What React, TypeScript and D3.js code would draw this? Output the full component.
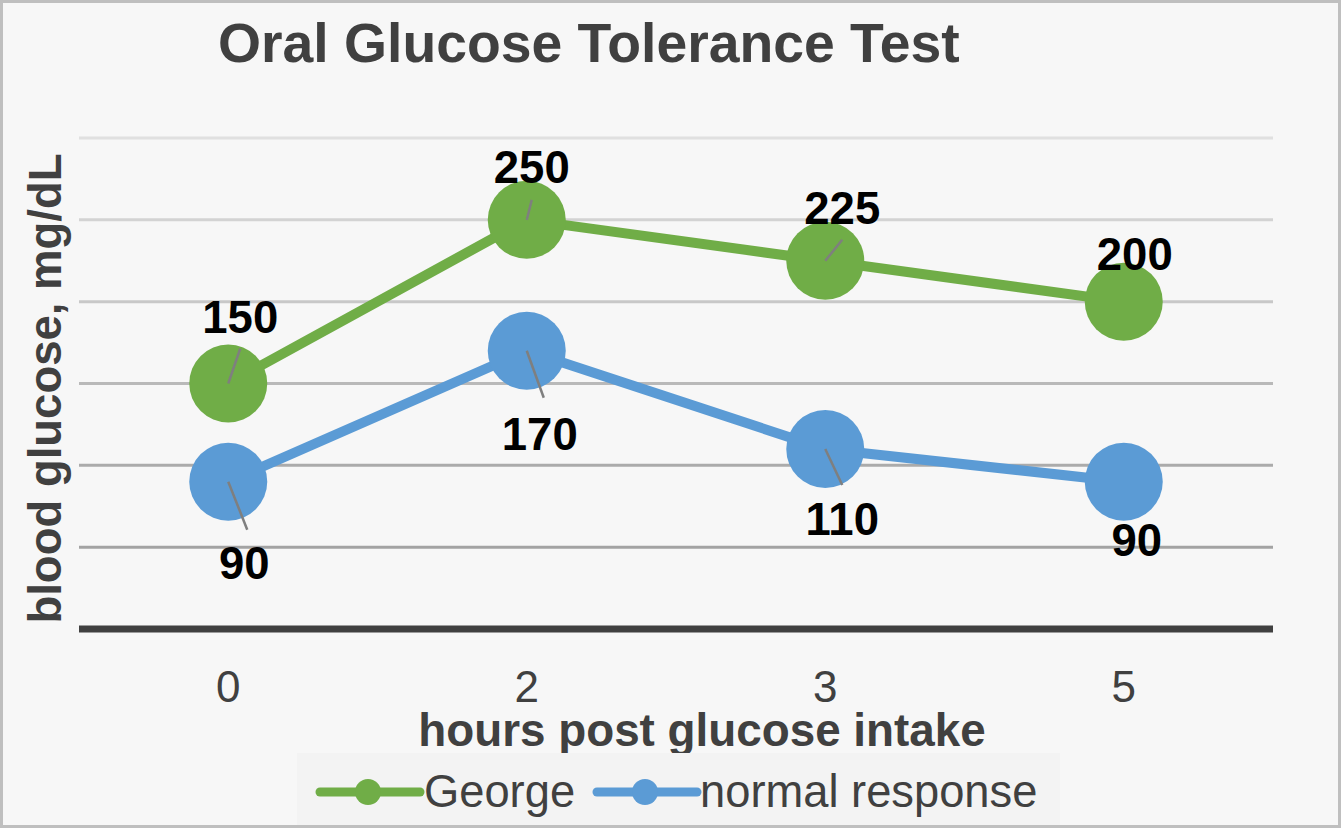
import React from "react";
import * as d3 from "d3";

const categories = ["0", "2", "3", "5"];
const georgeValues = [150, 250, 225, 200];
const normalValues = [90, 170, 110, 90];
const yTicks = [0, 50, 100, 150, 200, 250, 300];
const seriesNames = ["George", "normal response"];

// label placement (offsets from point, px): [labelDx, labelDy(baseline), leaderDx, leaderDy] ; leader null = none
const georgeLabelOffsets: [number, number, number | null, number | null][] = [
  [12, -51, 12, -35],
  [5, -37, 5, -20],
  [17, -37, 17, -21],
  [11, -32, null, null],
];
const normalLabelOffsets: [number, number, number | null, number | null][] = [
  [16, 97, 19, 48],
  [13, 99, 17, 47],
  [17, 86, 17, 36],
  [13, 74, null, null],
];

const W = 1341;
const H = 828;
const FONT = "'Liberation Sans', Arial, Helvetica, sans-serif";
const GREEN = "#70ad47";
const BLUE = "#5b9bd5";
const TEXT = "#404040";
const gridColors = ["#404040", "#a3a3a3", "#ababab", "#b9b9b9", "#c8c8c8", "#d3d3d3", "#e0e0e0"];

export default function App() {
  const x = d3.scaleBand<string>().domain(categories).range([79, 1273]);
  const cx = (c: string) => (x(c) as number) + x.bandwidth() / 2;
  const y = d3.scaleLinear().domain([0, 300]).range([629, 138]);
  const line = d3
    .line<number>()
    .x((_, i) => cx(categories[i]))
    .y((d) => y(d));

  const series = [
    { name: seriesNames[0], values: georgeValues, color: GREEN, offs: georgeLabelOffsets },
    { name: seriesNames[1], values: normalValues, color: BLUE, offs: normalLabelOffsets },
  ];

  return (
    <svg
      width={W}
      height={H}
      style={{ position: "fixed", left: 0, top: 0, display: "block" }}
      fontFamily={FONT}
    >
      <rect x={1.5} y={1.5} width={W - 3} height={H - 3} fill="#f7f7f7" stroke="#bfbfbf" strokeWidth={3} />

      <text x={218} y={62} fontSize={55.3} fontWeight="bold" fill={TEXT}>
        Oral Glucose Tolerance Test
      </text>

      {yTicks
        .filter((t) => t !== 0)
        .map((t, i) => (
          <line
            key={t}
            x1={79}
            x2={1273}
            y1={y(t)}
            y2={y(t)}
            stroke={gridColors[i + 1]}
            strokeWidth={3}
          />
        ))}
      <line x1={79} x2={1273} y1={y(0)} y2={y(0)} stroke={gridColors[0]} strokeWidth={7} />

      {categories.map((c) => (
        <text key={c} x={cx(c)} y={702} fontSize={44} fill={TEXT} textAnchor="middle">
          {c}
        </text>
      ))}

      <text x={702} y={746} fontSize={45.8} fontWeight="bold" fill={TEXT} textAnchor="middle">
        hours post glucose intake
      </text>
      <text
        transform={`translate(61, ${(y(0) + y(300)) / 2 + 5}) rotate(-90)`}
        fontSize={45.5}
        fontWeight="bold"
        fill={TEXT}
        textAnchor="middle"
      >
        blood glucose, mg/dL
      </text>

      {series.map((s) => (
        <path
          key={s.name}
          d={line(s.values) as string}
          fill="none"
          stroke={s.color}
          strokeWidth={10}
          strokeLinejoin="round"
        />
      ))}
      {series.map((s) =>
        s.values.map((v, i) => (
          <circle key={s.name + i} cx={cx(categories[i])} cy={y(v)} r={39} fill={s.color} />
        ))
      )}
      {series.map((s) =>
        s.values.map((v, i) => {
          const o = s.offs[i];
          if (o[2] === null || o[3] === null) return null;
          const px = cx(categories[i]);
          const py = y(v);
          return (
            <line
              key={"l" + s.name + i}
              x1={px}
              y1={py}
              x2={px + (o[2] as number)}
              y2={py + (o[3] as number)}
              stroke="#7f7f7f"
              strokeWidth={2.5}
            />
          );
        })
      )}
      {series.map((s) =>
        s.values.map((v, i) => {
          const o = s.offs[i];
          return (
            <text
              key={"t" + s.name + i}
              x={cx(categories[i]) + o[0]}
              y={y(v) + o[1]}
              fontSize={45.5}
              fontWeight="bold"
              fill="#000"
              textAnchor="middle"
            >
              {v}
            </text>
          );
        })
      )}

      <rect x={297} y={753} width={763} height={72} fill="#f3f3f3" />
      {[
        { name: seriesNames[0], color: GREEN, x0: 320, tx: 424 },
        { name: seriesNames[1], color: BLUE, x0: 597, tx: 700 },
      ].map((l) => (
        <g key={l.name}>
          <line x1={l.x0} x2={l.x0 + 100} y1={792} y2={792} stroke={l.color} strokeWidth={9} strokeLinecap="round" />
          <circle cx={l.x0 + 48} cy={792} r={13} fill={l.color} />
          <text x={l.tx} y={807} fontSize={45.3} fill={TEXT}>
            {l.name}
          </text>
        </g>
      ))}
    </svg>
  );
}
